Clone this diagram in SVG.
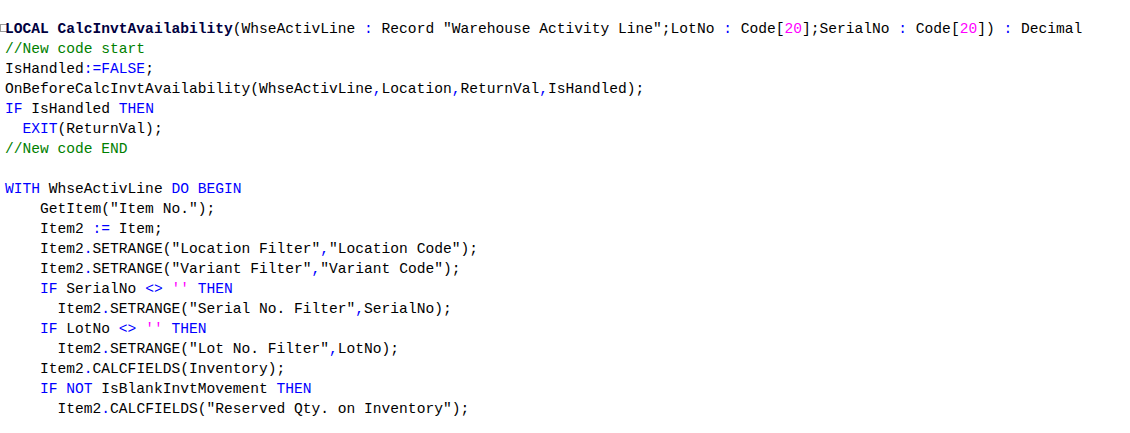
<svg xmlns="http://www.w3.org/2000/svg" width="1130" height="433" viewBox="0 0 1130 433">
<style>
text{font-family:"Liberation Mono","DejaVu Sans Mono",monospace;font-size:14.6px;fill:#000;white-space:pre}
.k{fill:#0000ff}.c{fill:#008000}.n{fill:#ff00ff}.b{font-weight:bold;fill:#000040}
</style>
<rect width="1130" height="433" fill="#fff"/>
<g id="code" xml:space="preserve">
<rect x="0.5" y="24.5" width="7" height="7" fill="none" stroke="#999"/>
<text x="5" y="33"><tspan class="b">LOCAL CalcInvtAvailability</tspan>(WhseActivLine <tspan class="k">:</tspan> Record "Warehouse Activity Line";LotNo <tspan class="k">:</tspan> Code[<tspan class="n">20</tspan>];SerialNo <tspan class="k">:</tspan> Code[<tspan class="n">20</tspan>]) <tspan class="k">:</tspan> Decimal</text>
<text x="5" y="53" class="c">//New code start</text>
<text x="5" y="73">IsHandled<tspan class="k">:=FALSE</tspan>;</text>
<text x="5" y="93">OnBeforeCalcInvtAvailability(WhseActivLine<tspan class="k">,</tspan>Location<tspan class="k">,</tspan>ReturnVal<tspan class="k">,</tspan>IsHandled);</text>
<text x="5" y="113"><tspan class="k">IF</tspan> IsHandled <tspan class="k">THEN</tspan></text>
<text x="5" y="133">  <tspan class="k">EXIT</tspan>(ReturnVal);</text>
<text x="5" y="153" class="c">//New code END</text>
<text x="5" y="193"><tspan class="k">WITH</tspan> WhseActivLine <tspan class="k">DO BEGIN</tspan></text>
<text x="5" y="213">    GetItem("Item No.");</text>
<text x="5" y="233">    Item2 <tspan class="k">:=</tspan> Item;</text>
<text x="5" y="253">    Item2<tspan class="k">.</tspan>SETRANGE("Location Filter"<tspan class="k">,</tspan>"Location Code");</text>
<text x="5" y="273">    Item2<tspan class="k">.</tspan>SETRANGE("Variant Filter"<tspan class="k">,</tspan>"Variant Code");</text>
<text x="5" y="293">    <tspan class="k">IF</tspan> SerialNo <tspan class="k">&lt;&gt;</tspan> <tspan class="n">''</tspan> <tspan class="k">THEN</tspan></text>
<text x="5" y="313">      Item2<tspan class="k">.</tspan>SETRANGE("Serial No. Filter"<tspan class="k">,</tspan>SerialNo);</text>
<text x="5" y="333">    <tspan class="k">IF</tspan> LotNo <tspan class="k">&lt;&gt;</tspan> <tspan class="n">''</tspan> <tspan class="k">THEN</tspan></text>
<text x="5" y="353">      Item2<tspan class="k">.</tspan>SETRANGE("Lot No. Filter"<tspan class="k">,</tspan>LotNo);</text>
<text x="5" y="373">    Item2<tspan class="k">.</tspan>CALCFIELDS(Inventory);</text>
<text x="5" y="393">    <tspan class="k">IF NOT</tspan> IsBlankInvtMovement <tspan class="k">THEN</tspan></text>
<text x="5" y="413">      Item2<tspan class="k">.</tspan>CALCFIELDS("Reserved Qty. on Inventory");</text>
</g>
</svg>
